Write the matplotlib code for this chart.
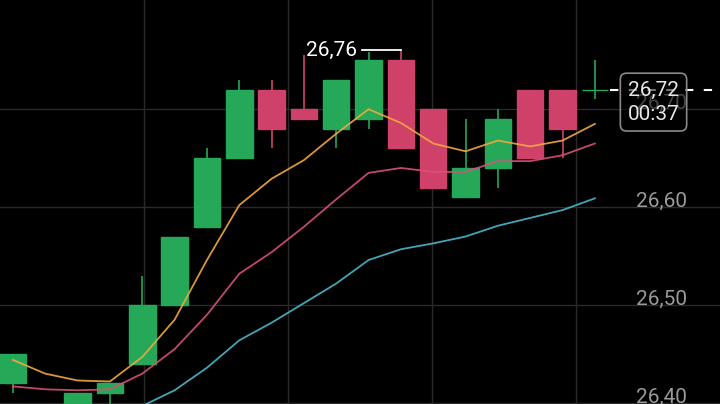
import matplotlib.pyplot as plt
import matplotlib.transforms as mtransforms
import numpy as np

plt.rcParams["font.family"] = ["Roboto", "DejaVu Sans"]

# candles (first one is partly off the left edge, second is below the view)
opens = [26.42, 26.39, 26.38, 26.41, 26.44, 26.50, 26.58, 26.65, 26.72, 26.70,
         26.68, 26.69, 26.75, 26.70, 26.61, 26.64, 26.72, 26.72, 26.72]
highs = [26.45, 26.39, 26.41, 26.42, 26.53, 26.57, 26.66, 26.73, 26.73, 26.755,
         26.73, 26.758, 26.76, 26.70, 26.69, 26.70, 26.72, 26.72, 26.75]
lows = [26.41, 26.36, 26.37, 26.39, 26.44, 26.50, 26.58, 26.65, 26.66, 26.69,
        26.66, 26.68, 26.66, 26.62, 26.61, 26.62, 26.65, 26.65, 26.71]
closes = [26.45, 26.37, 26.41, 26.42, 26.50, 26.57, 26.65, 26.72, 26.68, 26.69,
          26.73, 26.75, 26.66, 26.62, 26.64, 26.69, 26.65, 26.68, 26.72]

# moving averages
ma_fast = [26.444, 26.430, 26.423, 26.422, 26.447, 26.485, 26.546, 26.602, 26.629, 26.648,
           26.675, 26.700, 26.686, 26.665, 26.657, 26.668, 26.662, 26.668, 26.685]
ma_mid = [26.417, 26.414, 26.413, 26.414, 26.430, 26.455, 26.490, 26.532, 26.554, 26.580,
          26.608, 26.635, 26.640, 26.636, 26.636, 26.647, 26.647, 26.653, 26.665]
ma_slow = [np.nan, np.nan, np.nan, np.nan, 26.397, 26.413, 26.436, 26.464, 26.482, 26.502,
           26.522, 26.546, 26.557, 26.563, 26.570, 26.581, 26.589, 26.597, 26.609]

y_ticks = [26.40, 26.50, 26.60, 26.70]
y_tick_labels = ["26,40", "26,50", "26,60", "26,70"]
countdown = "00:37"

green = "#25a857"
red = "#cf4168"

fig = plt.figure(figsize=(7.2, 4.04), dpi=100)
fig.patch.set_facecolor("black")
ax = fig.add_axes([0, 0, 1, 1])
ax.set_facecolor("black")
for side in ax.spines.values():
    side.set_visible(False)

x = np.arange(len(opens))
xlim = (-0.4, 21.87)
ax.set_xlim(*xlim)
ax.set_ylim(26.399, 26.8115)

# grid
for gx in np.linspace(xlim[0], xlim[1], 6)[1:-1]:
    ax.axvline(gx, color="#2a2a2a", lw=1, zorder=0)
for gy in y_ticks:
    ax.axhline(gy, color="#2a2a2a", lw=1, zorder=0)
ax.set_xticks([])
ax.set_yticks([])

# price labels inside the plot, baseline on the gridline
blend = mtransforms.blended_transform_factory(ax.transAxes, ax.transData)
for val, lab in zip(y_ticks, y_tick_labels):
    ax.text(0.954, val, lab, transform=blend, ha="right", va="baseline",
            fontsize=15, color="#9a9a9a", zorder=1)

# candles
colors = [green if c >= o else red for o, c in zip(opens, closes)]
ax.vlines(x, lows, highs, colors=colors, lw=1.2, zorder=2)
ax.bar(x, np.array(closes) - np.array(opens), bottom=opens, width=0.82,
       color=colors, edgecolor=colors, linewidth=1, zorder=3)

# moving averages
ax.plot(x, ma_fast, color="#f0a842", lw=1.3, alpha=0.9, zorder=4)
ax.plot(x, ma_mid, color="#d9507a", lw=1.3, alpha=0.9, zorder=4)
ax.plot(x, ma_slow, color="#4ab8cc", lw=1.3, alpha=0.9, zorder=4)

# highest high marker
imax = int(np.argmax(highs))
hmax = highs[imax]
ax.plot([imax - 1.2, imax], [hmax, hmax], color="white", lw=1.3, zorder=5)
ax.text(imax - 1.36, hmax, f"{hmax:.2f}".replace(".", ","), ha="right", va="center",
        fontsize=15, color="white", zorder=5)

# last price line and box
last = closes[-1]
ax.hlines(last, x[-1] + 0.47, xlim[1], colors="white", lw=1.5,
          linestyles=(0, (4, 5)), zorder=5)
ax.annotate(f"{last:.2f}".replace(".", ",") + "\n" + countdown,
            xy=(1.0, last), xycoords=blend, xytext=(-66.5, -12.5),
            textcoords="offset pixels", ha="center", va="center",
            fontsize=15, color="#e8e8e8", linespacing=1.35, zorder=10,
            bbox=dict(boxstyle="round,pad=0.35,rounding_size=0.3",
                      fc=(0, 0, 0, 0.55), ec="#8a8a8a", lw=1.2))

fig.savefig("out.png", dpi=100, facecolor="black")
